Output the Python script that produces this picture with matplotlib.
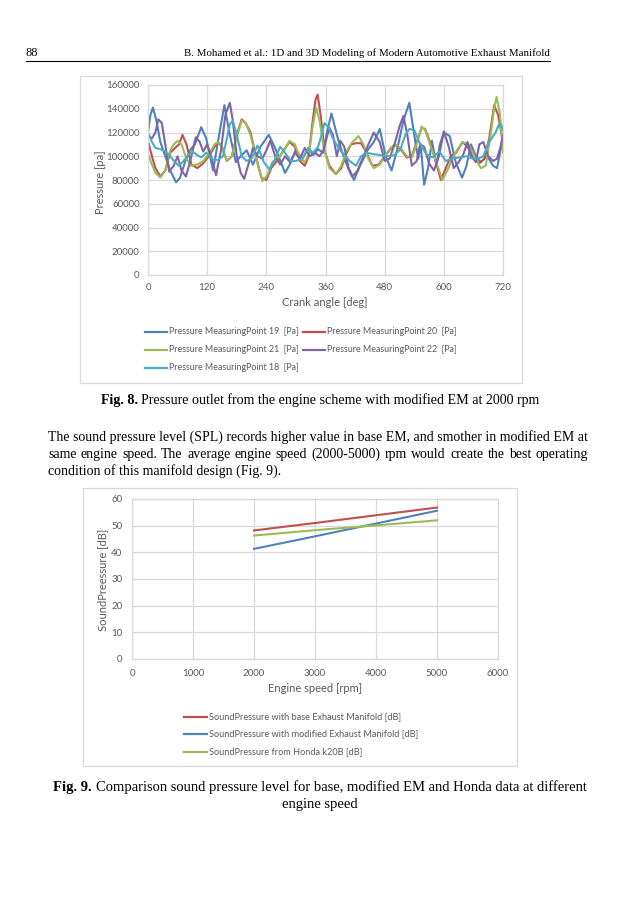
import matplotlib
matplotlib.use("Agg")
import matplotlib.pyplot as plt
from matplotlib.lines import Line2D
from matplotlib.patches import Rectangle

# page size in pixels (dpi 100)
W, H = 638, 907

# Fig. 8 - pressure at the measuring points against crank angle
angle_19 = [0, 5, 10, 17, 25, 35, 45, 57, 65, 75, 85, 95, 108, 118, 132, 143, 155, 165, 178, 188,
            200, 213, 228, 245, 260, 278, 290, 300, 312, 325, 335, 345, 355, 363, 372, 385, 398,
            410, 418, 430, 445, 458, 470, 482, 494, 505, 518, 530, 540, 548, 553, 560, 568, 576,
            585, 592, 600, 612, 624, 637, 646, 655, 665, 675, 688, 700, 708, 715, 720]
p_19 = [120000, 135000, 141000, 130000, 112000, 100000, 88000, 78000, 82000, 95000, 105000,
        110000, 124500, 115000, 88000, 115000, 143000, 120000, 95000, 100000, 105000, 93000,
        108000, 118000, 105000, 86000, 95000, 106000, 97000, 107000, 101000, 106000, 103000,
        120000, 136000, 115000, 98000, 86000, 80000, 92000, 105000, 112000, 123000, 100000,
        88000, 105000, 130000, 145000, 118000, 98000, 110000, 76000, 90000, 113000, 92000,
        110000, 120000, 117000, 95000, 82000, 92000, 110000, 100000, 95000, 100000, 92000,
        90000, 105000, 115000]

angle_20 = [0, 8, 15, 25, 35, 45, 55, 63, 70, 78, 88, 100, 112, 125, 135, 142, 150, 160, 170,
            180, 190, 198, 208, 220, 230, 240, 250, 263, 275, 287, 298, 308, 318, 326, 334, 340,
            344, 350, 358, 368, 381, 392, 402, 412, 422, 432, 442, 455, 468, 480, 490, 500, 512,
            525, 535, 545, 555, 562, 572, 584, 594, 604, 614, 625, 638, 648, 660, 672, 682, 692,
            702, 710, 720]
p_20 = [113000, 100000, 90000, 83000, 88000, 103000, 107000, 110000, 118000, 110000, 93000,
        90000, 94000, 101000, 108000, 112000, 108000, 96000, 100000, 118000, 131000, 128000,
        120000, 98000, 82000, 80000, 90000, 97000, 105000, 112000, 108000, 96000, 92000, 100000,
        130000, 148000, 152000, 135000, 105000, 92000, 85000, 90000, 102000, 110000, 111000,
        111000, 104000, 92000, 93000, 100000, 105000, 110000, 106000, 99000, 100000, 112000,
        124000, 123000, 112000, 95000, 80000, 90000, 100000, 103000, 112000, 108000, 98000,
        94000, 98000, 115000, 143000, 135000, 112000]

angle_21 = [0, 8, 15, 25, 35, 45, 52, 60, 68, 78, 88, 100, 112, 125, 135, 142, 150, 160, 170,
            180, 190, 198, 208, 220, 232, 242, 252, 263, 275, 287, 298, 308, 318, 326, 334, 341,
            348, 356, 368, 381, 392, 402, 415, 427, 437, 447, 458, 470, 482, 492, 502, 512, 525,
            535, 545, 555, 562, 572, 584, 597, 607, 617, 628, 638, 650, 662, 675, 685, 695, 702,
            707, 714, 720]
p_21 = [102000, 93000, 86000, 82000, 88000, 105000, 110000, 113000, 110000, 98000, 92000,
        93000, 96000, 103000, 110000, 112000, 108000, 96000, 100000, 116000, 130000, 128000,
        118000, 97000, 79000, 84000, 95000, 98000, 104000, 113000, 110000, 99000, 95000, 102000,
        125000, 141000, 130000, 108000, 90000, 85000, 92000, 104000, 112000, 117000, 110000,
        98000, 90000, 93000, 101000, 107000, 110000, 107000, 100000, 99000, 110000, 125000,
        122000, 110000, 96000, 80000, 88000, 98000, 106000, 112000, 110000, 100000, 90000,
        92000, 118000, 140000, 150000, 135000, 103000]

angle_22 = [0, 8, 15, 21, 28, 35, 43, 52, 60, 68, 77, 85, 97, 105, 112, 120, 128, 138, 148, 157,
            166, 172, 180, 188, 195, 205, 213, 222, 232, 240, 248, 258, 268, 278, 288, 298, 308,
            318, 328, 338, 348, 356, 362, 368, 375, 383, 390, 398, 407, 415, 425, 435, 447, 458,
            470, 480, 490, 500, 510, 518, 526, 535, 545, 552, 560, 570, 580, 590, 600, 610, 620,
            630, 640, 648, 656, 665, 672, 680, 690, 700, 708, 715, 720]
p_22 = [118000, 115000, 120000, 131000, 128000, 110000, 87000, 92000, 100000, 88000, 83000,
        95000, 116000, 112000, 104000, 110000, 100000, 84000, 105000, 135000, 145000, 130000,
        100000, 86000, 81000, 95000, 107000, 100000, 98000, 105000, 113000, 100000, 93000,
        100000, 95000, 103000, 98000, 107000, 100000, 103000, 100000, 105000, 115000, 124000,
        118000, 100000, 113000, 108000, 90000, 83000, 88000, 98000, 110000, 120000, 112000,
        96000, 98000, 110000, 125000, 134000, 118000, 92000, 96000, 110000, 108000, 94000,
        88000, 100000, 121000, 108000, 90000, 95000, 102000, 112000, 100000, 95000, 110000,
        112000, 100000, 96000, 98000, 108000, 118000]

angle_18 = [0, 8, 15, 25, 35, 45, 55, 62, 70, 80, 90, 100, 108, 118, 125, 132, 142, 152, 160,
            166, 172, 180, 190, 200, 210, 222, 235, 246, 256, 268, 278, 290, 300, 312, 325, 335,
            345, 352, 358, 365, 375, 388, 400, 412, 422, 432, 442, 455, 470, 485, 500, 512, 522,
            530, 540, 550, 564, 577, 591, 604, 618, 631, 645, 658, 670, 680, 692, 705, 712, 716,
            720]
p_18 = [120000, 112000, 107000, 106000, 104000, 100000, 95000, 92000, 95000, 100000, 104000,
        101000, 99000, 103000, 100000, 97000, 97000, 100000, 115000, 127000, 130000, 118000,
        100000, 96000, 98000, 109000, 95000, 89000, 96000, 108000, 103000, 96000, 96000, 98000,
        106000, 103000, 108000, 118000, 128000, 125000, 115000, 106000, 100000, 95000, 92000,
        100000, 103000, 102000, 101000, 100000, 101000, 106000, 118000, 123000, 122000, 112000,
        102000, 99000, 104000, 96000, 98000, 99000, 100000, 98000, 98000, 100000, 112000,
        120000, 127000, 127000, 122000]

labels_8 = ["Pressure MeasuringPoint 19  [Pa]", "Pressure MeasuringPoint 20  [Pa]",
            "Pressure MeasuringPoint 21  [Pa]", "Pressure MeasuringPoint 22  [Pa]",
            "Pressure MeasuringPoint 18  [Pa]"]

# Fig. 9 - sound pressure against engine speed
rpm = [2000, 3000, 4000, 5000]
spl_base = [48.2, 51.0, 53.9, 56.8]
spl_modified = [41.3, 46.0, 50.8, 55.6]
spl_honda = [46.3, 48.3, 50.1, 52.0]
labels_9 = ["SoundPressure with base Exhaust Manifold [dB]",
            "SoundPressure with modified Exhaust Manifold [dB]",
            "SoundPressure from Honda k20B [dB]"]

BLUE, RED, GREEN, PURPLE, CYAN = "#4F81BD", "#C0504D", "#9BBB59", "#8064A2", "#4BACC6"
GREY_TXT = "#595959"
GRID = "#D9D9D9"
SERIF = "Liberation Serif"
SANS = "Lato"

fig = plt.figure(figsize=(W / 100, H / 100), dpi=100)
fig.patch.set_facecolor("white")
renderer = fig.canvas.get_renderer()


def fx(x):
    return x / W


def fy(y):
    return 1 - y / H


def width_of(t):
    return t.get_window_extent(renderer).width


def put(x, y, s, size, **kw):
    kw.setdefault("va", "baseline")
    return fig.text(fx(x), fy(y), s, fontsize=size, **kw)


def fit(t, target):
    # scale the font so the text spans the target width in pixels
    t.set_fontsize(t.get_fontsize() * target / width_of(t))
    return t


def justify(x0, x1, y, line, size):
    words = line.split()
    ts = [put(0, y, w, size, family=SERIF) for w in words]
    ws = [width_of(t) for t in ts]
    gap = (x1 - x0 - sum(ws)) / (len(words) - 1)
    x = x0
    for t, w in zip(ts, ws):
        t.set_x(fx(x))
        x += w + gap


def runs_centered(xc, y, runs, size, target=None):
    ts = [put(0, y, s, size, family=SERIF, weight=wt) for s, wt in runs]

    def lay():
        ws = [width_of(t) for t in ts]
        space = ts[0].get_fontsize() * 100 / 72 * 0.25
        return ws, space, sum(ws) + space * (len(ts) - 1)

    ws, space, total = lay()
    if target:
        for t in ts:
            t.set_fontsize(t.get_fontsize() * target / total)
        ws, space, total = lay()
    x = xc - total / 2
    for t, w in zip(ts, ws):
        t.set_x(fx(x))
        x += w + space
    return ts[0].get_fontsize()


def frame(x0, y0, x1, y1):
    fig.add_artist(Rectangle((fx(x0), fy(y1)), (x1 - x0) / W, (y1 - y0) / H,
                             transform=fig.transFigure, fill=False, edgecolor=GRID, lw=0.9))


def style_axes(ax, pad):
    ax.grid(True, color=GRID, lw=0.9)
    ax.set_axisbelow(True)
    for sp in ax.spines.values():
        sp.set_color(GRID)
        sp.set_linewidth(0.9)
    ax.tick_params(length=0, colors=GREY_TXT, labelsize=7, pad=pad)
    for lab in ax.get_xticklabels() + ax.get_yticklabels():
        lab.set_family(SANS)


def legend_entry(x0, x1, y, color, text, size):
    fig.add_artist(Line2D([fx(x0), fx(x1)], [fy(y), fy(y)], transform=fig.transFigure,
                          color=color, lw=1.6))
    return put(x1 + 2, y, text, size, family=SANS, color=GREY_TXT, va="center")


# ---- page header
put(26, 56, "88", 9, family=SERIF)
fit(put(550, 56, "B. Mohamed et al.: 1D and 3D Modeling of Modern Automotive Exhaust Manifold",
        9, family=SERIF, ha="right"), 363)
fig.add_artist(Line2D([fx(26), fx(550)], [fy(61), fy(61)], transform=fig.transFigure,
                      color="black", lw=0.8))

# ---- Fig. 8
frame(80, 76, 522, 383)
ax1 = fig.add_axes([fx(148), fy(275), (503 - 148) / W, (275 - 85) / H])
ax1.plot(angle_19, p_19, color=BLUE, lw=1.5)
ax1.plot(angle_20, p_20, color=RED, lw=1.5)
ax1.plot(angle_21, p_21, color=GREEN, lw=1.5)
ax1.plot(angle_22, p_22, color=PURPLE, lw=1.5)
ax1.plot(angle_18, p_18, color=CYAN, lw=1.5)
ax1.set_xlim(0, 720)
ax1.set_ylim(0, 160000)
ax1.set_xticks(range(0, 721, 120))
ax1.set_yticks(range(0, 160001, 20000))
style_axes(ax1, 6)

put(325, 303, "Crank angle [deg]", 8, family=SANS, color=GREY_TXT, ha="center", va="center")
put(100, 182, "Pressure [pa]", 8, family=SANS, color=GREY_TXT, ha="center", va="center",
    rotation=90)

colors_8 = [BLUE, RED, GREEN, PURPLE, CYAN]
slots_8 = [(145, 332), (303, 332), (145, 350), (303, 350), (145, 368)]
for (x0, y), c, lab in zip(slots_8, colors_8, labels_8):
    fit(legend_entry(x0, x0 + 22, y, c, lab, 7), 131)

runs_centered(320, 404, [("Fig. 8.", "bold"),
                         ("Pressure outlet from the engine scheme with modified EM at 2000 rpm",
                          "normal")], 10, target=438)

# ---- body text: first line set at its natural width, second justified
line1 = fit(put(48, 441, "The sound pressure level (SPL) records higher value in base EM, and "
                "smother in modified EM at", 10.4, family=SERIF), 537)
BODY = line1.get_fontsize()
justify(48, 588, 458, "same engine speed. The average engine speed (2000-5000) rpm would "
        "create the best operating", BODY)
put(48, 475, "condition of this manifold design (Fig. 9).", BODY, family=SERIF)

# ---- Fig. 9
frame(83, 488, 517, 766)
ax2 = fig.add_axes([fx(132), fy(659), (498 - 132) / W, (659 - 499) / H])
ax2.plot(rpm, spl_base, color=RED, lw=1.5)
ax2.plot(rpm, spl_modified, color=BLUE, lw=1.5)
ax2.plot(rpm, spl_honda, color=GREEN, lw=1.5)
ax2.set_xlim(0, 6000)
ax2.set_ylim(0, 60)
ax2.set_xticks(range(0, 6001, 1000))
ax2.set_yticks(range(0, 61, 10))
style_axes(ax2, 7)

put(315, 688, "Engine speed [rpm]", 8, family=SANS, color=GREY_TXT, ha="center", va="center")
put(103, 580, "SoundPreessure [dB]", 8, family=SANS, color=GREY_TXT, ha="center", va="center",
    rotation=90)

for y, c, lab in zip([717, 734, 752], [RED, BLUE, GREEN], labels_9):
    t = legend_entry(184, 207, y, c, lab, 7)
    if lab == labels_9[0]:
        fit(t, 194)
        leg9_size = t.get_fontsize()
    else:
        t.set_fontsize(leg9_size)

cap9 = runs_centered(320, 791, [("Fig. 9.", "bold"),
                                ("Comparison sound pressure level for base, modified EM and "
                                 "Honda data at different", "normal")], 10, target=536)
put(320, 808, "engine speed", cap9, family=SERIF, ha="center")

fig.savefig("out.png", dpi=100, facecolor="white")
